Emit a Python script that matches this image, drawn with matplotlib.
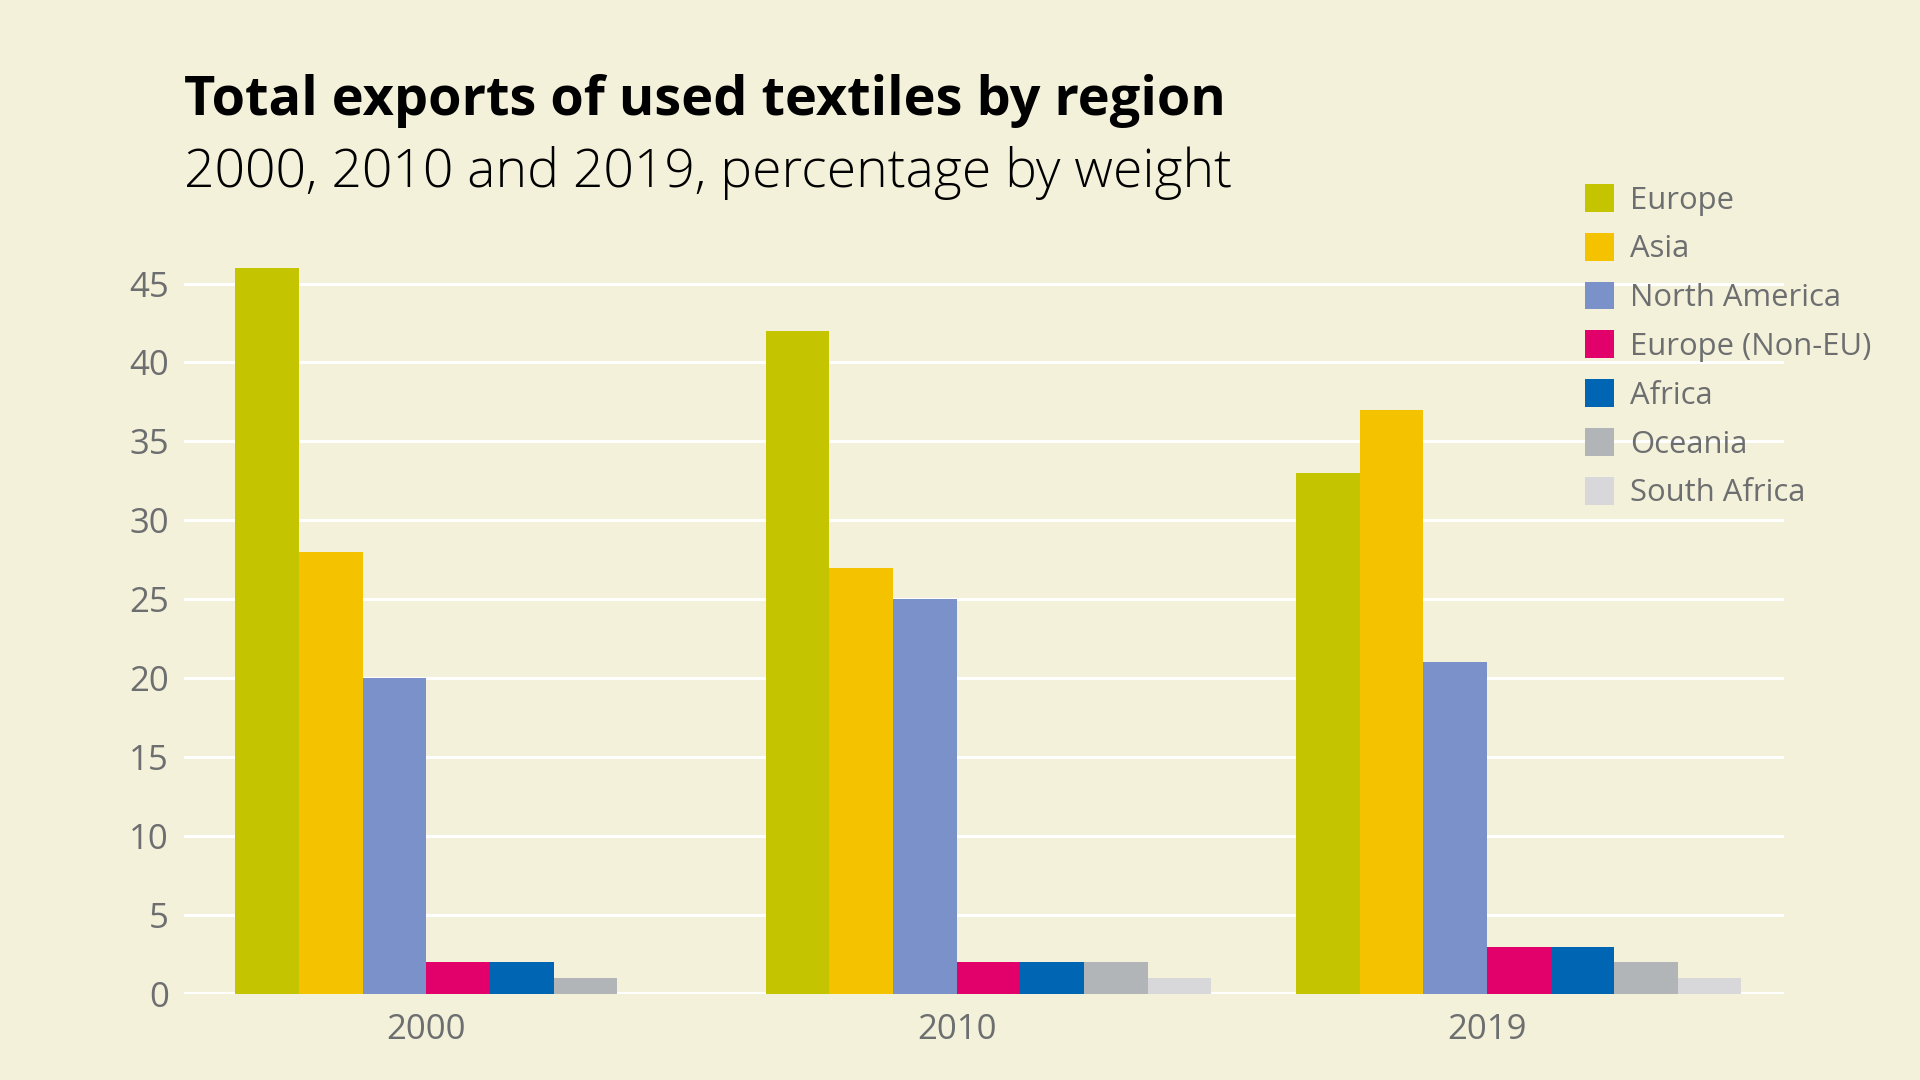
import numpy as np
import matplotlib
matplotlib.use("Agg")
import matplotlib.pyplot as plt

# data
years = ["2000", "2010", "2019"]
regions = ["Europe", "Asia", "North America", "Europe (Non-EU)", "Africa", "Oceania", "South Africa"]
europe = [46, 42, 33]
asia = [28, 27, 37]
north_america = [20, 25, 21]
europe_non_eu = [2, 2, 3]
africa = [2, 2, 3]
oceania = [1, 2, 2]
south_africa = [0, 1, 1]

colours = ["#c5c400", "#f5c200", "#7b91c9", "#e2006a", "#0066b3", "#b1b5b8", "#d8d8da"]
bg = "#f4f1da"
grey_txt = "#6d6e70"

plt.rcParams['font.family'] = ['Open Sans', 'DejaVu Sans']

fig = plt.figure(figsize=(19.2, 10.8), dpi=100, facecolor=bg)
ax = fig.add_axes([0.0958, 0.0796, 0.8333, 0.6871])
ax.set_facecolor(bg)

series = [europe, asia, north_america, europe_non_eu, africa, oceania, south_africa]
x = np.arange(len(years))
w = 0.12
for i, (vals, col, name) in enumerate(zip(series, colours, regions)):
    ax.bar(x + (i - 3) * w, vals, width=w, color=col, label=name, zorder=3, linewidth=0)

ax.set_ylim(0, 47)
ax.set_xlim(-0.517, 2.50)
ax.set_yticks(range(0, 46, 5))
ax.set_xticks(x - w / 2)
ax.set_xticklabels(years)
ax.grid(axis='y', color='white', linewidth=2.2, zorder=1)
ax.axhline(0, color='white', linewidth=3, zorder=2)
for s in ax.spines.values():
    s.set_visible(False)
ax.tick_params(axis='both', length=0, labelsize=25, labelcolor=grey_txt)
ax.tick_params(axis='y', pad=11)
ax.tick_params(axis='x', pad=14)

fig.text(0.0958, 1 - 115 / 1080, "Total exports of used textiles by region",
         fontsize=39, fontweight='bold', color='black', va='baseline', ha='left')
fig.text(0.0958, 1 - 187 / 1080, "2000, 2010 and 2019, percentage by weight",
         fontsize=38.5, fontweight='light', color='black', va='baseline', ha='left')

fig.legend(loc='upper left', bbox_to_anchor=(0.8255, 0.8296), frameon=False,
           fontsize=22.3, handlelength=0.94, handleheight=1.0, handletextpad=0.52,
           labelspacing=0.56, borderpad=0, borderaxespad=0, labelcolor=grey_txt)

fig.savefig("out.png", dpi=100, facecolor=bg)
